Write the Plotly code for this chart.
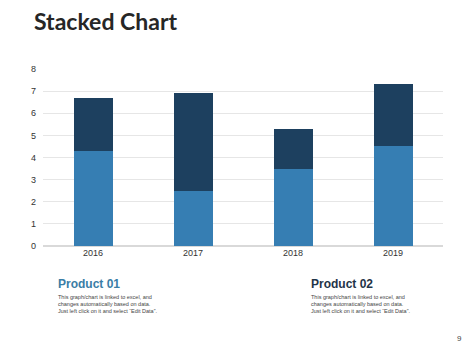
import plotly.graph_objects as go

years = ["2016", "2017", "2018", "2019"]
product01 = [4.3, 2.5, 3.5, 4.5]
product02 = [2.4, 4.4, 1.8, 2.8]
y_ticks = [0, 1, 2, 3, 4, 5, 6, 7, 8]

fig = go.Figure()
fig.add_trace(go.Bar(x=years, y=product01, name="Product 01", marker_color="#367EB3",
                     marker_line_width=0))
fig.add_trace(go.Bar(x=years, y=product02, name="Product 02", marker_color="#1D405F",
                     marker_line_width=0))

fig.update_layout(
    barmode="stack",
    width=474, height=355,
    margin=dict(l=43, r=31, t=69, b=109),
    paper_bgcolor="white", plot_bgcolor="white",
    showlegend=False,
    bargap=0.61,
    font=dict(family="Liberation Sans, Arial, sans-serif", color="#333333", size=9),
)
fig.update_yaxes(range=[0, 8], tickvals=y_ticks, showgrid=True, gridcolor="#E6E6E6",
                 gridwidth=1, zeroline=True, zerolinecolor="#D9D9D9", ticks="",
                 ticklabelstandoff=6, tickfont=dict(size=9, color="#333333"))
fig.update_xaxes(showgrid=False, ticks="", tickfont=dict(size=9, color="#333333"),
                 showline=False)


def paper_x(px):
    return (px - 43) / 400


def paper_y(py):
    return (246 - py) / 177


fig.add_annotation(text="<b>Stacked Chart</b>", xref="paper", yref="paper",
                   x=paper_x(32), y=paper_y(21), xanchor="left", yanchor="middle",
                   showarrow=False,
                   font=dict(family="Lato, DejaVu Sans, sans-serif", size=23, color="#262626"))

body = "This graph/chart is linked to excel, and<br>changes automatically based on data.<br>Just left click on it and select \u201cEdit Data\u201d."

for x0, title, col in [(58, "Product 01", "#3A7DA6"), (311, "Product 02", "#1F3448")]:
    fig.add_annotation(text="<b>" + title + "</b>", xref="paper", yref="paper",
                       x=paper_x(x0) - 0.004, y=paper_y(284), xanchor="left", yanchor="middle",
                       showarrow=False,
                       font=dict(family="Liberation Sans, Arial, sans-serif", size=12, color=col))
    fig.add_annotation(text=body, xref="paper", yref="paper", align="left",
                       x=paper_x(x0) - 0.004, y=paper_y(292), xanchor="left", yanchor="top",
                       showarrow=False,
                       font=dict(family="Liberation Sans, Arial, sans-serif", size=5.5, color="#444444"))

fig.add_annotation(text="9", xref="paper", yref="paper",
                   x=paper_x(459), y=paper_y(338), xanchor="center", yanchor="middle",
                   showarrow=False,
                   font=dict(family="Liberation Sans, Arial, sans-serif", size=8, color="#444444"))

fig.write_html("out.html", config={"displayModeBar": False},
               post_script="document.body.style.margin='0';document.body.style.overflow='hidden';")
